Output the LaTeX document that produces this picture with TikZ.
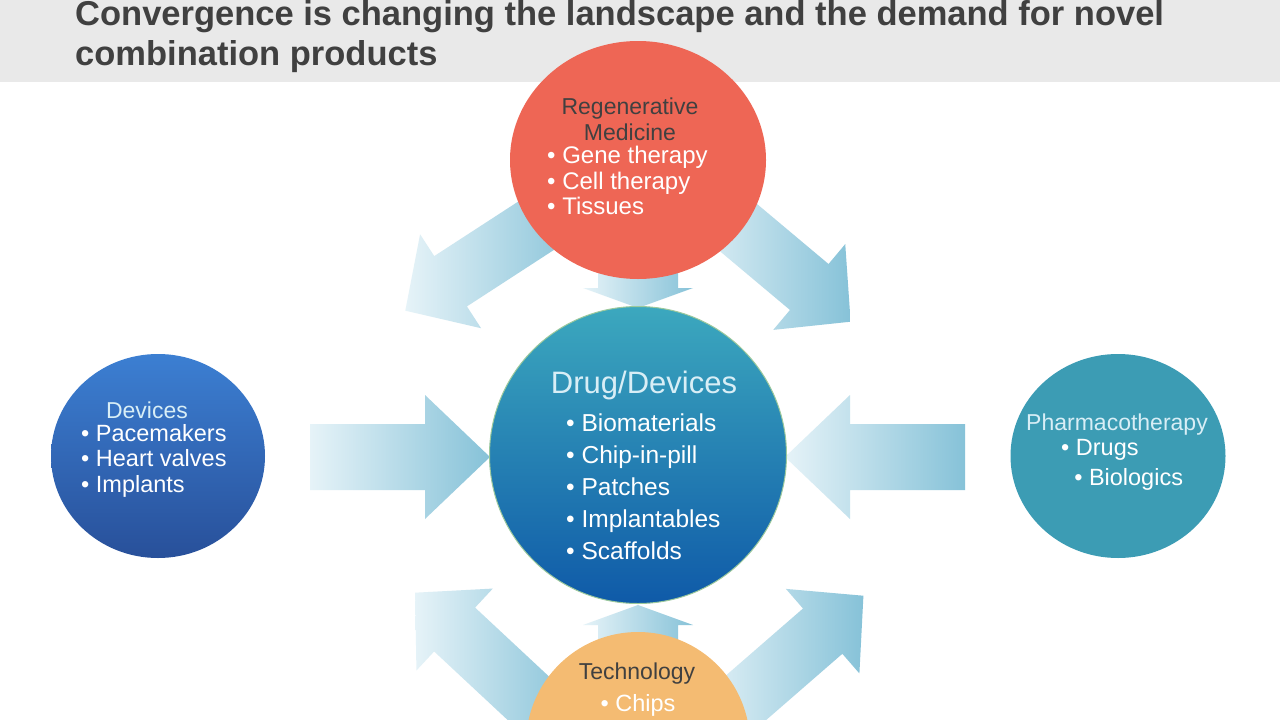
\documentclass[tikz,border=0pt]{standalone}
\usepackage{fontspec}
\setmainfont{Liberation Sans}
\usetikzlibrary{shapes.geometric}
\definecolor{arrb}{HTML}{86C2D8}
\definecolor{arrl}{HTML}{E6F3F8}
\definecolor{redc}{HTML}{EE6655}
\definecolor{orc}{HTML}{F4BB72}
\definecolor{titlec}{HTML}{404040}
\definecolor{ctop}{HTML}{3CA8BE}
\definecolor{cbot}{HTML}{0F5AA8}
\definecolor{dtop}{HTML}{3C7FD2}
\definecolor{dbot}{HTML}{28509A}
\definecolor{phc}{HTML}{3C9CB4}
\definecolor{lt}{HTML}{D8EEF6}
\tikzset{
  fatarrow/.pic={
    \path[left color=arrl,right color=arrb,draw=none]
      (0,-\bw)--(\bl,-\bw)--(\bl,-\hw)--(\bl+\hl,0)--(\bl,\hw)--(\bl,\bw)--(0,\bw)--cycle;
  },
  circ/.style={inner sep=0pt},
  lst/.style={anchor=north west,align=left,text=white,inner sep=0pt},
}
\newcommand\bw{30}\newcommand\hw{56}\newcommand\hl{55}\newcommand\bl{130}
\begin{document}
\begin{tikzpicture}[x=1pt,y=-1pt]
\useasboundingbox (0,0) rectangle (1280,720);
\fill[white] (0,0) rectangle (1280,720);
\fill[gray!17] (0,0) rectangle (1280,82);
\node[anchor=north west,align=left,text=titlec,font=\bfseries\fontsize{34.5}{40}\selectfont,inner sep=0pt] (title) at (75,0)
  {Convergence is changing the landscape and the demand for novel\\combination products};
% arrows
\renewcommand\bw{33}\renewcommand\hw{62}\renewcommand\hl{65}\renewcommand\bl{115}
\pic at (310,457) {fatarrow};
\pic[rotate=180] at (965,457) {fatarrow};
\renewcommand\bw{40}\renewcommand\hw{55}\renewcommand\hl{20}\renewcommand\bl{60}
\pic[rotate=-90] at (638,228) {fatarrow};
\pic[rotate=90] at (638,685) {fatarrow};
\renewcommand\bw{30}\renewcommand\hw{56}\renewcommand\hl{54}\renewcommand\bl{140}
\pic[rotate=-147] at (568,205) {fatarrow};
\pic[rotate=-40] at (702,197) {fatarrow};
\pic[rotate=137] at (557,725) {fatarrow};
\pic[rotate=41] at (717,723) {fatarrow};
% circles
\node[ellipse,minimum width=256,minimum height=238,fill=redc,circ] (regen) at (638,160) {};
\node[align=center,text=titlec,font=\fontsize{23}{26}\selectfont] (regent) at (630,119) {Regenerative\\Medicine};
\node[lst,font=\fontsize{24}{25.5}\selectfont] (regenl) at (547,146)
  {• Gene therapy\\• Cell therapy\\• Tissues};
\node[circle,minimum size=297,top color=ctop,bottom color=cbot,draw=green!30!gray!60,line width=1pt,circ] (center) at (638,455) {};
\node[text=lt,font=\fontsize{31}{34}\selectfont] (centert) at (644,385) {Drug/Devices};
\node[lst,font=\fontsize{24.5}{31.8}\selectfont] (centerl) at (566,414)
  {• Biomaterials\\• Chip-in-pill\\• Patches\\• Implantables\\• Scaffolds};
\node[ellipse,minimum width=214,minimum height=204,top color=dtop,bottom color=dbot,circ] (dev) at (158,456) {};
\node[text=lt,font=\fontsize{23}{25}\selectfont] (devt) at (147,410) {Devices};
\node[lst,font=\fontsize{23.5}{25.5}\selectfont] (devl) at (81,424)
  {• Pacemakers\\• Heart valves\\• Implants};
\node[ellipse,minimum width=215,minimum height=204,fill=phc,circ] (pharm) at (1118,456) {};
\node[text=lt,font=\fontsize{23}{25}\selectfont] (pharmt) at (1117,425) {Pharmacotherapy};
\node[lst,font=\fontsize{23.5}{30}\selectfont] (pharml) at (1061,439)
  {• Drugs\\\ \ • Biologics};
\node[circle,minimum size=224,fill=orc,circ] (tech) at (638,744) {};
\node[text=titlec,font=\fontsize{23}{25}\selectfont] (techt) at (637,674) {Technology};
\node[text=white,font=\fontsize{23.5}{25}\selectfont] (techl) at (638,705) {• Chips};
\end{tikzpicture}
\end{document}
